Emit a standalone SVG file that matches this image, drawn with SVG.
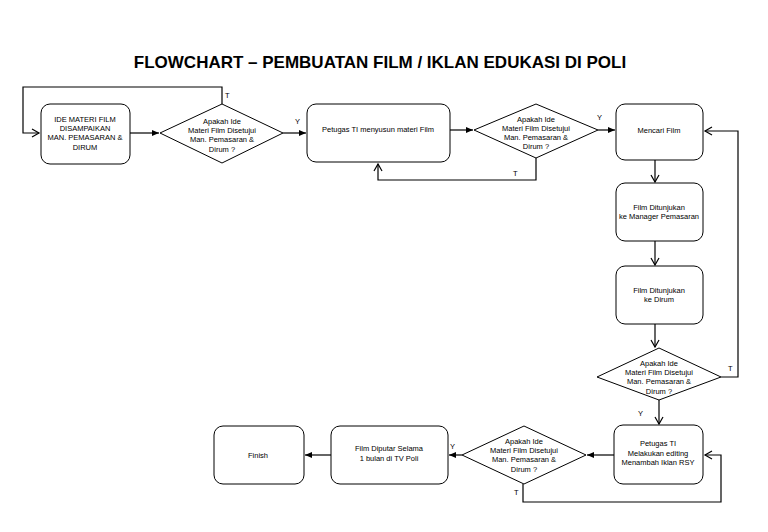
<svg xmlns="http://www.w3.org/2000/svg" width="768" height="532" viewBox="0 0 768 532">
<style>
.n{fill:#fff;stroke:#000;stroke-width:1}
.t{font-family:"Liberation Sans",Arial,sans-serif;font-size:7.5px;text-anchor:middle;fill:#000}
.l{font-family:"Liberation Sans",Arial,sans-serif;font-size:7.5px;fill:#000}
.c{fill:none;stroke:#000;stroke-width:1.2}
</style>
<defs>
<marker id="f" markerWidth="8" markerHeight="8" refX="7" refY="4" orient="auto" markerUnits="userSpaceOnUse"><path d="M0,1 L7,4 L0,7 Z" fill="#000"/></marker>
<marker id="o" markerWidth="10" markerHeight="10" refX="8" refY="5" orient="auto" markerUnits="userSpaceOnUse"><path d="M1,1 L8,5 L1,9" fill="none" stroke="#000" stroke-width="1.2"/></marker>
</defs>
<rect width="768" height="532" fill="#fff"/>
<text x="380" y="68" font-family="Liberation Sans,Arial,sans-serif" font-size="17" font-weight="bold" text-anchor="middle">FLOWCHART –  PEMBUATAN FILM / IKLAN EDUKASI DI POLI</text>
<g id="connectors">
<path class="c" d="M222,104 V87 H23 V133 H39" marker-end="url(#o)"/>
<path class="c" d="M130,133 H159" marker-end="url(#f)"/>
<path class="c" d="M283,133 H306" marker-end="url(#f)"/>
<path class="c" d="M450,130 H473" marker-end="url(#f)"/>
<path class="c" d="M536,158 V180 H378 V164" marker-end="url(#o)"/>
<path class="c" d="M598,130 H615" marker-end="url(#f)"/>
<path class="c" d="M655,160 V182" marker-end="url(#o)"/>
<path class="c" d="M655,241 V265" marker-end="url(#o)"/>
<path class="c" d="M655,324 V347" marker-end="url(#o)"/>
<path class="c" d="M721,377 H738 V131 H705" marker-end="url(#o)"/>
<path class="c" d="M659,400 V424" marker-end="url(#o)"/>
<path class="c" d="M614,455 H587" marker-end="url(#f)"/>
<path class="c" d="M523,484 V502 H721 V455 H705" marker-end="url(#o)"/>
<path class="c" d="M462,455 H449" marker-end="url(#f)"/>
<path class="c" d="M331,455 H305" marker-end="url(#f)"/>
<text class="l" x="225" y="98">T</text>
<text class="l" x="295" y="124">Y</text>
<text class="l" x="513" y="176">T</text>
<text class="l" x="597" y="120">Y</text>
<text class="l" x="728" y="371">T</text>
<text class="l" x="638" y="416">Y</text>
<text class="l" x="450" y="449">Y</text>
<text class="l" x="514" y="495">T</text>
</g>
<g id="n1"><rect class="n" x="41" y="104" width="89" height="60" rx="9"/>
<text class="t" x="85" y="122">IDE MATERI FILM</text><text class="t" x="85" y="131">DISAMPAIKAN</text><text class="t" x="85" y="140">MAN. PEMASARAN &amp;</text><text class="t" x="85" y="150">DIRUM</text></g>
<g id="d1"><polygon class="n" points="160,133 222,104 283,133 222,163"/>
<text class="t" x="222" y="124">Apakah Ide</text><text class="t" x="222" y="133">Materi Film Disetujui</text><text class="t" x="222" y="142">Man. Pemasaran &amp;</text><text class="t" x="222" y="152">Dirum ?</text></g>
<g id="n2"><rect class="n" x="307" y="104" width="143" height="58" rx="9"/>
<text class="t" x="378" y="132">Petugas TI menyusun materi Film</text></g>
<g id="d2"><polygon class="n" points="474,130 536,104 598,130 536,158"/>
<text class="t" x="536" y="122">Apakah Ide</text><text class="t" x="536" y="131">Materi Film Disetujui</text><text class="t" x="536" y="140">Man. Pemasaran &amp;</text><text class="t" x="536" y="149">Dirum ?</text></g>
<g id="n3"><rect class="n" x="616" y="104" width="87" height="56" rx="9"/>
<text class="t" x="659" y="133">Mencari Film</text></g>
<g id="n4"><rect class="n" x="616" y="183" width="87" height="58" rx="9"/>
<text class="t" x="659" y="210">Film Ditunjukan</text><text class="t" x="659" y="219">ke Manager Pemasaran</text></g>
<g id="n5"><rect class="n" x="616" y="266" width="87" height="58" rx="9"/>
<text class="t" x="659" y="293">Film Ditunjukan</text><text class="t" x="659" y="302">ke Dirum</text></g>
<g id="d3"><polygon class="n" points="597,377 659,348 721,377 659,400"/>
<text class="t" x="659" y="366">Apakah Ide</text><text class="t" x="659" y="375">Materi Film Disetujui</text><text class="t" x="659" y="384">Man. Pemasaran &amp;</text><text class="t" x="659" y="394">Dirum ?</text></g>
<g id="n6"><rect class="n" x="614" y="425" width="89" height="59" rx="9"/>
<text class="t" x="658" y="446">Petugas TI</text><text class="t" x="658" y="456">Melakukan editing</text><text class="t" x="658" y="465">Menambah Iklan RSY</text></g>
<g id="d4"><polygon class="n" points="462,455 524,426 586,455 524,484"/>
<text class="t" x="524" y="444">Apakah Ide</text><text class="t" x="524" y="453">Materi Film Disetujui</text><text class="t" x="524" y="462">Man. Pemasaran &amp;</text><text class="t" x="524" y="472">Dirum ?</text></g>
<g id="n7"><rect class="n" x="331" y="426" width="117" height="58" rx="9"/>
<text class="t" x="389" y="451">Film Diputar Selama</text><text class="t" x="389" y="461">1 bulan di TV  Poli</text></g>
<g id="n8"><rect class="n" x="214" y="426" width="90" height="58" rx="9"/>
<text class="t" x="258" y="458">Finish</text></g>
</svg>
